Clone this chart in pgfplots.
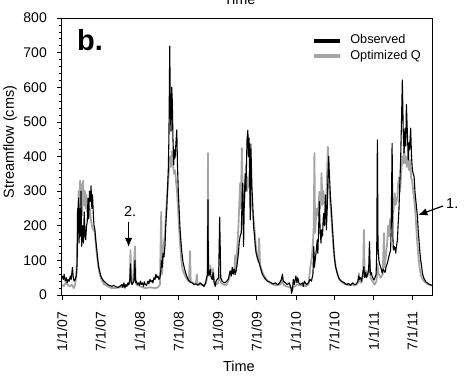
\documentclass[border=0pt]{standalone}
\usepackage{fontspec}
\setmainfont{Liberation Sans}
\usepackage{pgfplots}
\pgfplotsset{compat=1.18}
\usepackage{pgfplotstable}
\usetikzlibrary{arrows.meta}
\definecolor{optgray}{RGB}{165,165,165}

\pgfplotstableread{
day q
1 55
6 45
10 60
15 40
20 50
24 35
29 45
34 40
39 55
43 45
49 80
53 50
57 40
62 45
67 55
71 90
73 250
75 180
78 280
80 150
82 200
85 250
87 170
89 300
92 140
94 160
97 200
101 150
104 240
108 170
111 160
115 200
118 210
122 280
125 220
129 300
133 270
136 315
140 250
143 290
147 230
150 200
154 190
158 160
163 130
168 100
172 80
177 68
182 55
187 48
196 40
205 35
215 30
224 27
234 25
243 28
252 24
262 22
271 25
281 30
285 22
290 35
295 20
299 30
304 25
309 35
313 30
318 45
321 90
324 40
328 30
332 35
337 40
342 100
345 35
349 40
353 30
358 35
363 28
368 40
372 30
377 35
382 25
386 38
391 30
396 28
403 40
407 32
412 45
417 38
422 42
426 35
431 50
436 45
440 60
445 50
450 55
454 45
459 50
463 70
466 100
470 80
473 120
478 110
483 145
486 200
491 250
494 300
498 358
501 450
505 719
508 520
511 473
514 600
517 560
520 450
524 376
526 420
530 396
533 430
538 477
541 380
545 300
548 260
553 193
558 150
561 127
567 95
577 69
586 52
592 44
600 38
610 35
619 30
628 32
638 28
647 35
657 30
666 25
673 35
678 50
682 60
684 275
686 70
689 55
694 75
699 50
704 45
708 65
713 35
718 25
722 40
727 45
734 50
739 225
744 50
751 40
760 35
769 38
779 45
788 70
793 55
798 80
802 60
807 75
812 60
816 70
821 90
827 121
830 150
835 170
840 179
843 250
846 323
851 140
855 294
859 350
862 300
867 448
871 476
874 400
877 453
880 320
882 217
885 436
890 313
894 260
898 197
901 180
906 140
910 120
917 105
924 92
932 75
937 63
943 55
953 46
962 40
971 38
981 35
990 32
1000 35
1009 30
1018 33
1028 45
1033 60
1037 40
1047 35
1056 30
1065 35
1073 20
1076 5
1080 15
1084 45
1089 30
1096 55
1101 35
1105 50
1110 35
1117 30
1127 35
1131 25
1136 40
1145 30
1155 35
1162 45
1169 40
1176 60
1180 140
1183 80
1188 110
1192 130
1196 159
1199 120
1203 200
1206 270
1210 180
1214 150
1216 188
1221 170
1224 220
1227 236
1230 200
1235 289
1238 230
1239 188
1243 250
1246 330
1250 400
1253 350
1258 284
1263 240
1266 208
1270 170
1274 130
1277 105
1282 82
1289 65
1297 49
1305 42
1315 38
1324 35
1333 30
1343 33
1352 28
1362 35
1371 30
1380 32
1387 40
1391 55
1394 45
1399 50
1404 40
1409 60
1415 82
1418 50
1423 65
1427 50
1432 60
1437 70
1441 154
1445 60
1449 65
1454 53
1462 43
1467 50
1472 60
1475 120
1478 448
1481 140
1485 101
1488 90
1493 82
1498 70
1501 63
1505 75
1509 70
1514 65
1519 82
1524 90
1528 100
1532 111
1536 120
1540 130
1543 200
1547 438
1551 160
1553 130
1557 140
1560 135
1564 121
1567 140
1572 159
1575 200
1579 245
1582 300
1587 390
1591 500
1595 621
1599 480
1603 410
1607 480
1611 430
1614 550
1619 460
1623 390
1627 440
1629 420
1634 482
1638 400
1642 361
1646 350
1650 342
1654 300
1658 274
1662 250
1666 226
1669 190
1673 159
1677 125
1681 101
1686 80
1689 63
1695 50
1705 38
1714 34
1723 30
1734 28
}\obs

\pgfplotstableread{
day q
1 30
8 25
17 35
27 30
36 25
46 30
55 20
62 30
67 60
71 120
74 200
78 300
81 250
85 330
88 260
92 320
95 230
99 330
102 260
107 300
110 250
114 290
118 240
121 270
125 230
130 250
135 220
140 200
144 190
149 190
154 180
158 150
163 120
168 95
172 75
177 60
182 50
187 42
196 32
205 28
215 25
224 22
234 20
252 20
271 22
290 25
309 28
318 35
321 130
324 40
332 35
342 140
345 40
351 30
365 25
389 20
412 22
436 20
450 22
459 30
465 240
469 60
473 110
478 150
483 180
487 230
492 280
497 320
501 360
506 400
511 370
515 416
520 380
525 350
530 360
534 330
539 300
544 250
548 200
553 150
558 110
562 85
567 70
577 55
586 45
595 38
600 127
603 40
610 36
619 33
628 35
632 59
635 33
647 30
666 28
675 35
682 60
684 410
686 90
689 80
694 85
699 70
704 65
708 75
713 40
722 30
732 35
739 60
746 35
760 30
769 28
779 40
788 55
798 70
807 60
812 115
816 70
821 130
827 200
830 250
835 323
838 250
843 424
847 280
851 320
855 270
859 330
862 375
866 300
870 340
874 310
879 360
882 290
887 300
891 250
896 230
901 200
906 160
910 130
915 110
920 95
924 164
928 90
934 75
943 60
953 50
962 42
976 35
990 30
1004 28
1023 30
1033 45
1037 30
1051 25
1070 22
1080 20
1089 25
1103 30
1117 28
1141 25
1155 30
1164 82
1171 110
1176 150
1180 200
1183 410
1186 180
1190 220
1195 250
1199 230
1203 260
1206 298
1210 250
1214 280
1216 352
1221 260
1225 300
1230 270
1235 250
1239 280
1246 428
1249 320
1253 300
1258 260
1263 220
1267 180
1272 140
1277 110
1282 85
1291 60
1300 45
1310 38
1324 32
1343 28
1362 30
1376 28
1387 35
1391 63
1394 40
1404 35
1411 60
1415 188
1418 60
1425 70
1432 55
1441 90
1446 50
1455 40
1465 30
1474 40
1478 90
1484 60
1493 50
1503 60
1509 179
1512 80
1519 120
1524 150
1528 200
1533 170
1538 220
1542 190
1548 280
1553 240
1559 294
1564 260
1572 284
1575 320
1580 340
1585 300
1590 360
1595 400
1599 380
1604 420
1608 380
1613 400
1617 370
1622 410
1627 360
1632 390
1636 340
1641 330
1646 300
1650 280
1655 250
1660 200
1664 160
1669 120
1674 90
1678 70
1683 55
1690 45
1700 38
1714 32
1734 28
}\opt

\begin{document}
\begin{tikzpicture}
\begin{axis}[
  at={(0,0)}, anchor=south west,
  scale only axis, width=370bp, height=277bp,
  xmin=0, xmax=1734, ymin=0, ymax=800,
  xtick={0,181,365,547,731,912,1096,1277,1461,1642},
  xticklabels={1/1/07,7/1/07,1/1/08,7/1/08,1/1/09,7/1/09,1/1/10,7/1/10,1/1/11,7/1/11},
  ytick={0,100,...,800},
  minor y tick num=4,
  tick align=outside,
  xtick pos=left, ytick pos=left,
  major tick length=5bp, minor tick length=3bp,
  every tick/.style={black, line width=0.7bp},
  axis line style={line width=1bp},
  /pgf/number format/assume math mode=true,
  tick label style={font=\fontsize{14bp}{16bp}\selectfont},
  x tick label style={yshift=-12bp, rotate=90, anchor=east, inner sep=0pt},
  y tick label style={xshift=-10bp, anchor=east, inner sep=0pt},
  xlabel={Time}, ylabel={Streamflow (cms)},
  every axis x label/.style={at={(axis description cs:0.478,0)}, yshift=-71bp, anchor=center, font=\fontsize{14.5bp}{17bp}\selectfont},
  every axis y label/.style={at={(axis description cs:0,0.552)}, xshift=-52bp, rotate=90, anchor=center, font=\fontsize{14.5bp}{17bp}\selectfont},
  legend style={draw=none, fill=none, at={(axis description cs:0.676,0.942)}, anchor=north west,
    inner sep=0pt, font=\fontsize{12.7bp}{15bp}\selectfont, row sep=3bp, column sep=8bp,
    nodes={inner sep=0pt, text height=9.5bp, text depth=3bp}, cells={anchor=west}},
  legend image code/.code={\draw[#1] (0bp,0bp) -- (26bp,0bp);},
  clip=false,
]
\addlegendimage{black, line width=4bp}
\addlegendentry{Observed}
\addlegendimage{optgray, line width=4bp}
\addlegendentry{Optimized Q}
\addplot[optgray, line width=1.8bp, line join=round, forget plot] table[x=day, y=q] {\opt};
\addplot[black, line width=1.1bp, line join=round, forget plot] table[x=day, y=q] {\obs};
\draw[line width=1.2bp, -{Latex[length=9bp,width=7.5bp]}] (axis cs:312,212) -- (axis cs:312,139);
\node[font=\fontsize{14.5bp}{17bp}\selectfont] at (axis cs:319,241) {2.};
\draw[line width=1.2bp, -{Latex[length=9bp,width=7.5bp]}] (axis cs:1785,257) -- (axis cs:1670,231);
\node[font=\fontsize{14.5bp}{17bp}\selectfont] at (axis cs:1829,263) {1.};
\node[anchor=base west, inner sep=0pt, font=\bfseries\fontsize{29bp}{31bp}\selectfont] at ([xshift=15bp,yshift=-32bp]axis description cs:0,1) {b.};
\node[anchor=base, inner sep=0pt, font=\fontsize{14.5bp}{17bp}\selectfont] at ([yshift=14bp]axis description cs:0.48,1) {Time};
\end{axis}
\pgfresetboundingbox
\useasboundingbox (-62bp,-81bp) rectangle (412bp,295bp);
\end{tikzpicture}
\end{document}
